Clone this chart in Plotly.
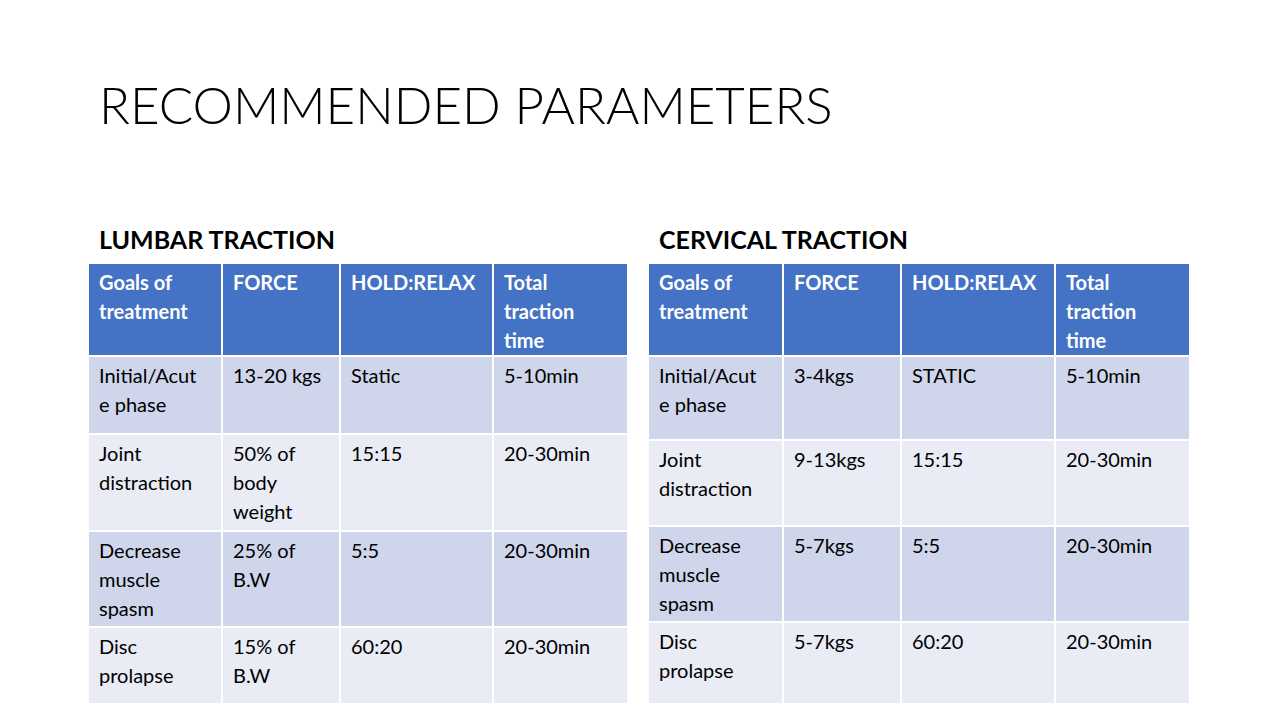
import plotly.graph_objects as go

title = "RECOMMENDED PARAMETERS"
headers = [["Goals of", "treatment"], ["FORCE"], ["HOLD:RELAX"], ["Total", "traction", "time"]]

lumbar_title = "LUMBAR TRACTION"
lumbar_goals = [["Initial/Acut", "e phase"], ["Joint", "distraction"], ["Decrease", "muscle", "spasm"], ["Disc", "prolapse"]]
lumbar_force = [["13-20 kgs"], ["50% of", "body", "weight"], ["25% of", "B.W"], ["15% of", "B.W"]]
lumbar_hold = [["Static"], ["15:15"], ["5:5"], ["60:20"]]
lumbar_time = [["5-10min"], ["20-30min"], ["20-30min"], ["20-30min"]]

cervical_title = "CERVICAL TRACTION"
cervical_goals = [["Initial/Acut", "e phase"], ["Joint", "distraction"], ["Decrease", "muscle", "spasm"], ["Disc", "prolapse"]]
cervical_force = [["3-4kgs"], ["9-13kgs"], ["5-7kgs"], ["5-7kgs"]]
cervical_hold = [["STATIC"], ["15:15"], ["5:5"], ["60:20"]]
cervical_time = [["5-10min"], ["20-30min"], ["20-30min"], ["20-30min"]]

HEAD = "#4472C4"
ODD = "#CFD5EA"
EVEN = "#E9EBF5"
FONT = "Lato"

fig = go.Figure()
shapes, annos = [], []


def table(name, cols_x, rows_y, goals, force, hold, ttime):
    annos.append(dict(x=cols_x[0] + 9, y=rows_y[0] - 24, text="<b>" + name + "</b>",
                      xanchor="left", yanchor="middle", showarrow=False,
                      font=dict(size=25, color="black", family=FONT)))
    body = [headers] + [[g, f, h, t] for g, f, h, t in zip(goals, force, hold, ttime)]
    for r, row in enumerate(body):
        fill = HEAD if r == 0 else (ODD if r % 2 == 1 else EVEN)
        for c, cell in enumerate(row):
            x0, x1 = cols_x[c], cols_x[c + 1]
            y0, y1 = rows_y[r], rows_y[r + 1]
            shapes.append(dict(type="rect", x0=x0, x1=x1, y0=y0, y1=y1, fillcolor=fill,
                               line=dict(color="white", width=2), layer="below"))
            for i, line in enumerate(cell):
                txt = "<b>" + line + "</b>" if r == 0 else line
                annos.append(dict(x=x0 + 9, y=y0 + 19 + 29 * i, text=txt, xanchor="left",
                                  yanchor="middle", showarrow=False,
                                  font=dict(size=20, color="white" if r == 0 else "black", family=FONT)))


table(lumbar_title, [89, 223, 341, 494, 629], [264, 357, 435, 532, 628, 705],
      lumbar_goals, lumbar_force, lumbar_hold, lumbar_time)
table(cervical_title, [649, 784, 902, 1056, 1191], [264, 357, 441, 527, 623, 705],
      cervical_goals, cervical_force, cervical_hold, cervical_time)

annos.append(dict(x=98, y=105, text=title, xanchor="left", yanchor="middle", showarrow=False,
                  font=dict(size=51, color="black", family=FONT, weight=300)))

fig.update_layout(width=1280, height=720, margin=dict(l=0, r=0, t=0, b=0),
                  paper_bgcolor="white", plot_bgcolor="white",
                  xaxis=dict(range=[9, 1289], visible=False, fixedrange=True),
                  yaxis=dict(range=[729, 9], visible=False, fixedrange=True),
                  shapes=shapes, annotations=annos, showlegend=False)
fig.write_html("out.html")
